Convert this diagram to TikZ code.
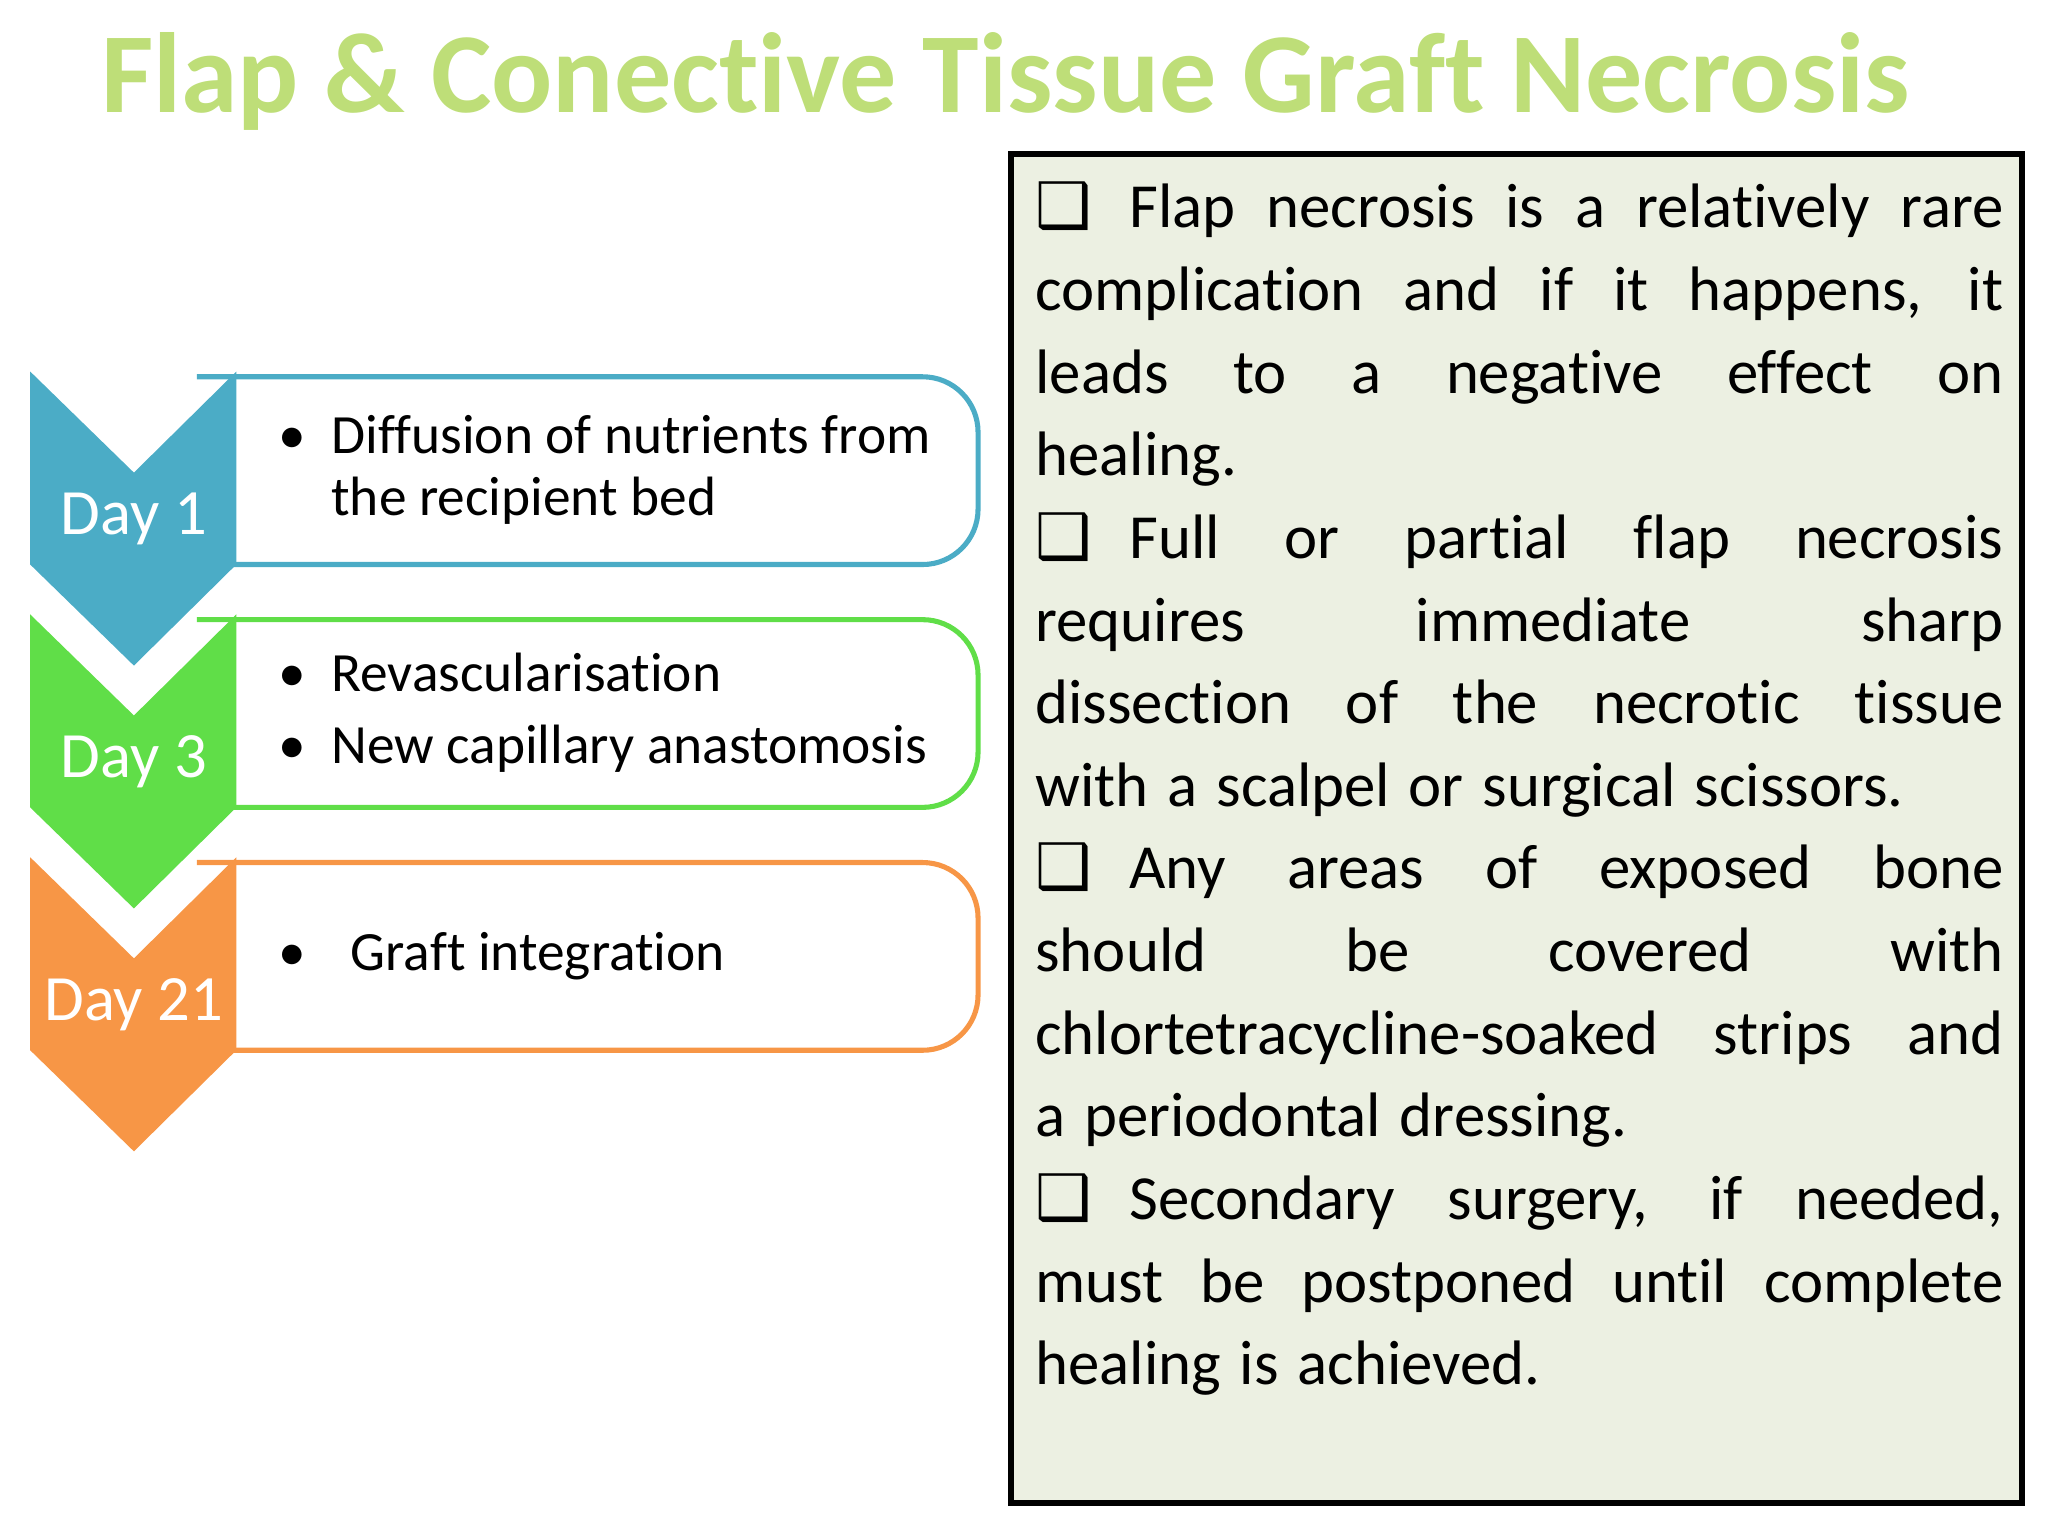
\documentclass[tikz,border=0pt]{standalone}
\usepackage{fontspec}
\setmainfont[Ligatures=NoCommon]{Carlito}
\newfontfamily\symfont{DejaVu Sans}
\usetikzlibrary{positioning}
\definecolor{dayblue}{RGB}{75,172,198}
\definecolor{daygreen}{RGB}{96,222,72}
\definecolor{dayorange}{RGB}{247,150,70}
\definecolor{titlegreen}{RGB}{190,222,120}
\definecolor{titleedge}{RGB}{140,185,70}
\definecolor{notefill}{RGB}{236,240,226}
\newcommand{\chk}{{\symfont\char"2751}\hspace{0.6em}}
\tikzset{
  chevron/.style={fill=#1, draw=none},
  stagebox/.style={draw=#1, line width=1.1pt, rounded corners=12pt},
  daylabel/.style={text=white, font=\fontsize{14}{16}\selectfont},
  stagetext/.style={anchor=west, align=left, font=\fontsize{12}{13.6}\selectfont}
}
\begin{document}
\begin{tikzpicture}[x=0.01cm,y=-0.01cm]
\useasboundingbox (0,0) rectangle (1560,1170);
% title
\node[text=titlegreen, font=\bfseries] (title) at (766,62)
  {\resizebox{13.77cm}{!}{Flap \& Conective Tissue Graft Necrosis}};
% stages
\foreach \yy/\col/\lab [count=\i] in {287/dayblue/Day 1, 472/daygreen/Day 3, 657/dayorange/Day 21}{
  \draw[stagebox=\col] (150,\yy) -- (745,\yy) -- (745,\yy+143) -- (150,\yy+143);
  \fill[chevron=\col] (23,\yy-4) -- (102,\yy+73) -- (180,\yy-4) -- (180,\yy+143) -- (102,\yy+220) -- (23,\yy+143) -- cycle;
  \node[daylabel] (day\i) at (102,\yy+108) {\lab};
}
\node[stagetext] (s1) at (200,358) {\textbullet\hspace{0.45em}\parbox[t]{12cm}{Diffusion of nutrients from\\the recipient bed}};
\node[stagetext] (s3) at (200,543) {\textbullet\hspace{0.45em}Revascularisation\\[2pt]\textbullet\hspace{0.45em}New capillary anastomosis};
\node[stagetext] (s21) at (200,728) {\textbullet\hspace{0.8em}Graft integration};
% notes
\node[draw=black, fill=notefill, line width=1.3pt, outer sep=0pt, minimum width=7.70cm, minimum height=10.27cm, anchor=north west] (notes) at (770,117) {};
\node[anchor=north west, inner sep=0pt, font=\fontsize{13.6}{17.9}\selectfont] (notetext) at (788,138)
 {\parbox[t]{7.37cm}{\setlength{\parindent}{0pt}\spaceskip=0.3em plus 3em minus 0.1em
 \chk Flap necrosis is a relatively rare\linebreak complication and if it happens, it\linebreak leads to a negative effect on\linebreak healing.\par
 \chk Full or partial flap necrosis\linebreak requires immediate sharp\linebreak dissection of the necrotic tissue\linebreak with a scalpel or surgical scissors.\par
 \chk Any areas of exposed bone\linebreak should be covered with\linebreak chlortetracycline-soaked strips and\linebreak a periodontal dressing.\par
 \chk Secondary surgery, if needed,\linebreak must be postponed until complete\linebreak healing is achieved.}};
\end{tikzpicture}
\end{document}
